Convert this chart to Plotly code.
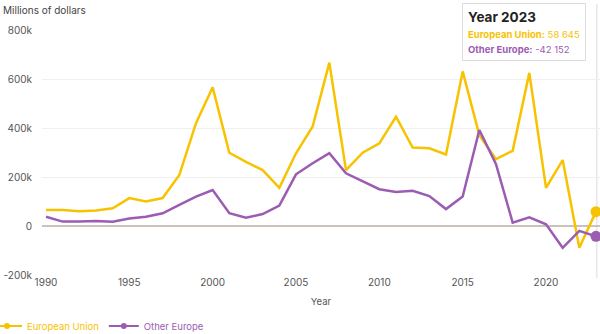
import plotly.graph_objects as go

# Annual values, millions of dollars
years = list(range(1990, 2024))
european_union = [
    65000, 65000, 60000, 63000, 72000, 114000, 100000, 114000, 208000, 420000,
    566000, 299000, 262000, 228000, 156000, 297000, 406000, 667000, 228000, 299000,
    337000, 446000, 320000, 317000, 292000, 631000, 371000, 273000, 307000, 625000,
    156000, 269000, -89000, 58645,
]
other_europe = [
    38000, 18000, 18000, 20000, 17000, 31000, 38000, 52000, 86000, 120000,
    147000, 52000, 34000, 49000, 83000, 211000, 256000, 297000, 215000, 181000,
    150000, 139000, 144000, 122000, 69000, 120000, 392000, 252000, 14000, 35000,
    7000, -89000, -20000, -42152,
]
y_ticks = [-200000, 0, 200000, 400000, 600000, 800000]
y_tick_text = ["-200k", "0", "200k", "400k", "600k", "800k"]
x_ticks = [1990, 1995, 2000, 2005, 2010, 2015, 2020]

EU_COLOR = "#F7C300"
OE_COLOR = "#9B5CB2"
FONT = "Inter"

W, H = 600, 334
ML, MR, MT, MB = 42, 0, 30, 59
PW, PH = W - ML - MR, H - MT - MB


def px_x(p):
    return (p - ML) / PW


def px_y(p):
    return 1 - (p - MT) / PH


fig = go.Figure()

for name, vals, color in [("European Union", european_union, EU_COLOR),
                          ("Other Europe", other_europe, OE_COLOR)]:
    fig.add_trace(go.Scatter(
        x=years, y=vals, mode="lines",
        line=dict(color=color, width=2.5),
        showlegend=False, hoverinfo="skip",
    ))
    # highlighted latest point
    fig.add_trace(go.Scatter(
        x=[years[-1]], y=[vals[-1]], mode="markers",
        marker=dict(color=color, size=11),
        showlegend=False, hoverinfo="skip",
    ))
    # legend entry
    fig.add_trace(go.Scatter(
        x=[None], y=[None], mode="lines+markers",
        name=f"<span style='color:{color}'>{name}</span>",
        line=dict(color=color, width=2),
        marker=dict(color=color, size=6),
    ))

# hover crosshair at the latest year
fig.add_shape(type="line", xref="x", yref="paper",
              x0=years[-1] + 0.05, x1=years[-1] + 0.05, y0=px_y(278), y1=px_y(4),
              line=dict(color="#e2e2e2", width=1.2), layer="below")


def fmt(v):
    return f"{v:,}".replace(",", " ")


tooltip = (
    "<span style='font-size:13.5px'><b>Year %d</b></span><br>"
    "<span style='font-size:9.5px;color:%s'><b>European Union:</b> %s</span><br>"
    "<span style='font-size:9.5px;color:%s'><b>Other Europe:</b> %s</span>"
) % (years[-1], EU_COLOR, fmt(european_union[-1]), OE_COLOR, fmt(other_europe[-1]))

fig.add_annotation(
    text=tooltip, xref="paper", yref="paper",
    x=px_x(586), y=px_y(3), xanchor="right", yanchor="top",
    showarrow=False, align="left", bgcolor="white",
    bordercolor="#dcdcdc", borderwidth=1, borderpad=5,
    font=dict(family=FONT, size=12, color="#222222"),
)

fig.add_annotation(
    text="Millions of dollars", xref="paper", yref="paper",
    x=px_x(1), y=px_y(10), xanchor="left", yanchor="middle",
    showarrow=False, font=dict(family=FONT, size=10, color="#444444"),
)

fig.update_layout(
    width=W, height=H,
    margin=dict(l=ML, r=MR, t=MT, b=MB, autoexpand=False),
    paper_bgcolor="white", plot_bgcolor="white",
    font=dict(family=FONT, size=10, color="#555555"),
    showlegend=True,
    legend=dict(orientation="h", x=px_x(-13), xanchor="left", y=px_y(326), yanchor="middle",
                font=dict(family=FONT, size=9.5), itemwidth=30,
                bgcolor="rgba(0,0,0,0)", tracegroupgap=0),
    xaxis=dict(
        range=[1989.76, 2023.24], tickvals=x_ticks, showgrid=False,
        zeroline=False, showline=False, ticks="",
        tickfont=dict(size=10, color="#555555"),
        title=dict(text="Year", font=dict(size=9.5, color="#555555"), standoff=11),
    ),
    yaxis=dict(
        range=[-200000, 800000], tickvals=y_ticks, ticktext=y_tick_text,
        showgrid=True, gridcolor="#efefef", gridwidth=1,
        zeroline=True, zerolinecolor="#cbc3bb", zerolinewidth=1.5,
        showline=False, ticks="", ticklabelstandoff=9,
        tickfont=dict(size=10, color="#555555"),
    ),
)

fig.write_html("out.html")
